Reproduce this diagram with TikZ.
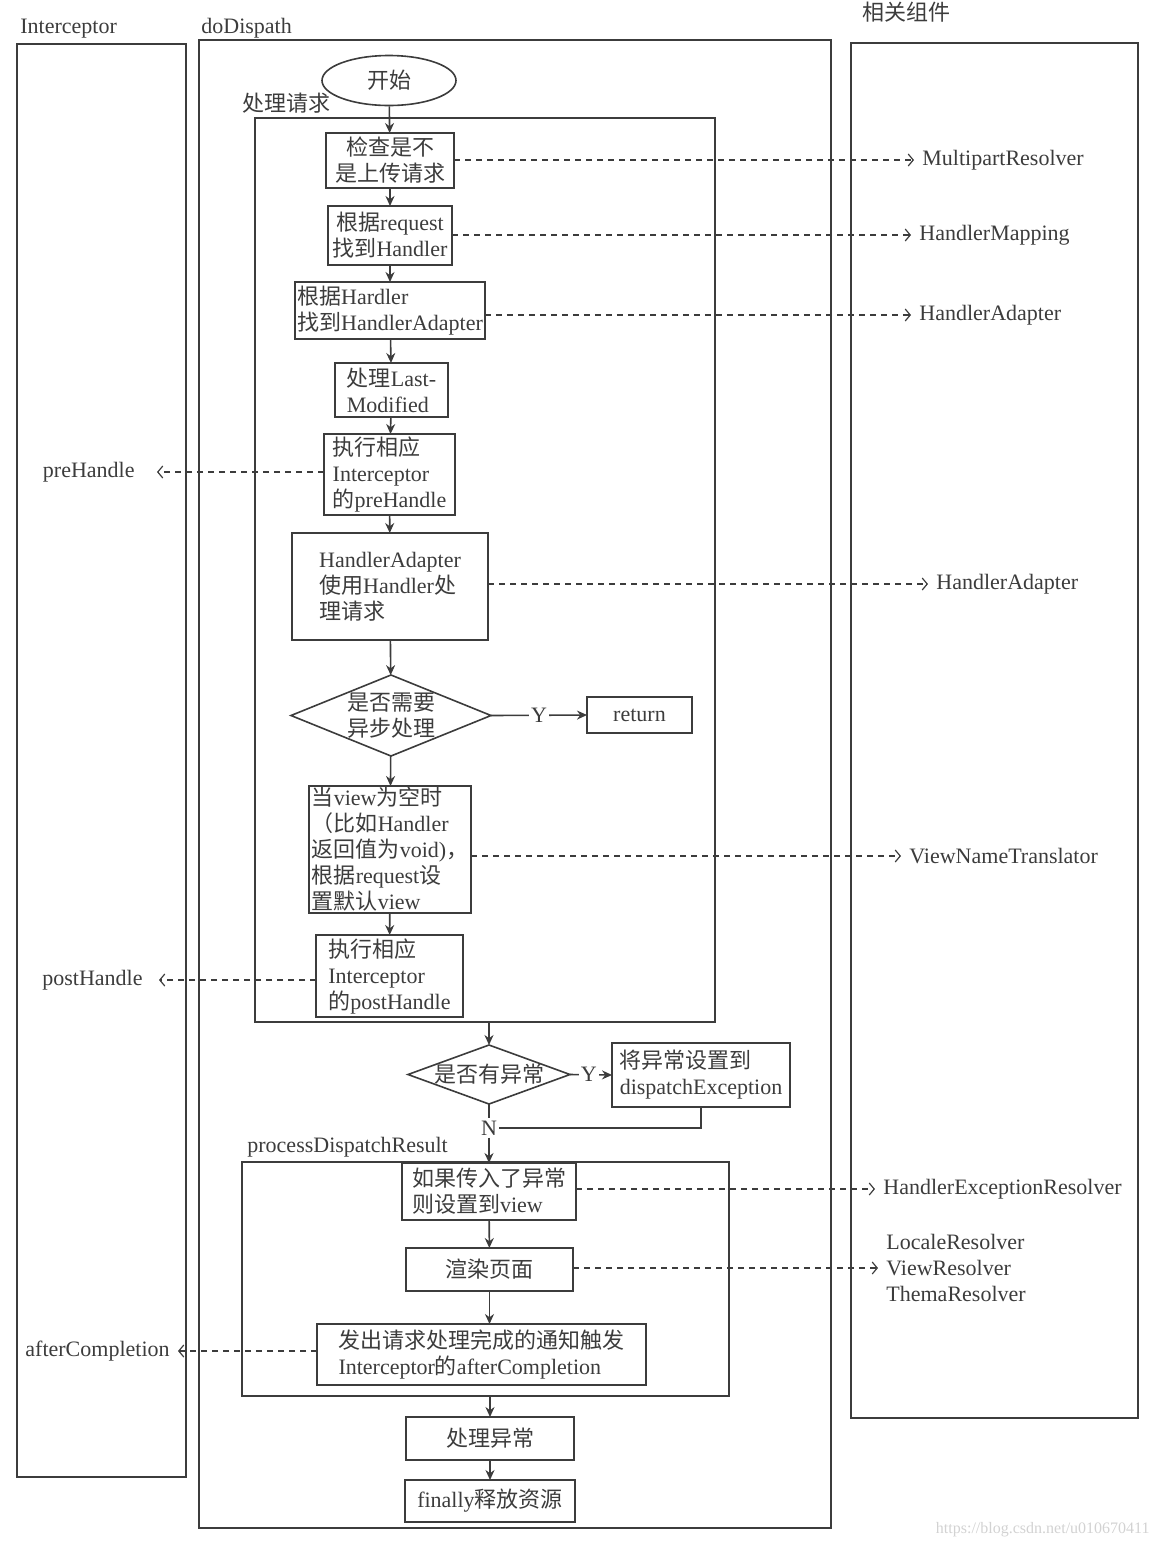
\documentclass[tikz,border=0pt]{standalone}
\usepackage{fontspec}
\setmainfont{Liberation Serif}
\newfontfamily\cjk{Noto Sans CJK SC}
\newcommand\zh[1]{{\cjk #1}}
\usepackage{tikz}
\usetikzlibrary{arrows.meta,shapes.geometric}
\definecolor{ink}{RGB}{60,60,60}

\begin{document}
\begin{tikzpicture}[x=0.5pt,y=0.5pt,yscale=-1,xscale=1,
  every node/.style={font=\fontsize{11}{13}\selectfont, text=ink},
  lane/.style={draw=ink, line width=0.8pt, inner sep=0pt, outer sep=0pt},
  stage/.style={draw=ink, line width=0.8pt, inner sep=0pt, outer sep=0pt},
  box/.style={draw=ink, line width=0.8pt, inner sep=1pt, outer sep=0pt, align=center},
  cond/.style={draw=ink, line width=0.8pt, diamond, inner sep=0pt, outer sep=0pt},
  lbl/.style={inner sep=1pt, align=left},
  flow/.style={draw=ink, line width=0.8pt, -{Stealth[length=5pt,width=4.5pt]}},
  dep/.style={draw=ink, line width=0.6pt, dash pattern=on 3pt off 2.5pt, shorten >=3pt, -{Straight Barb[length=2.5pt,width=6pt]}}]
\path[use as bounding box] (0,0) rectangle (1158,1549);

%Lanes
\node[lane, minimum width=84.5pt, minimum height=716.5pt] (icpt) at (101.5,760.5) {};
\node[lane, minimum width=316pt, minimum height=744pt] (disp) at (515,784) {};
\node[lane, minimum width=143.5pt, minimum height=687.5pt] (comp) at (994.5,730.5) {};
\node[lbl, anchor=base west] (icptT) at (18,33) {Interceptor};
\node[lbl, anchor=base west] (dispT) at (199,33) {doDispath};
\node[lbl, anchor=base west] (compT) at (860,20) {\zh{相关组件}};

%Stages
\node[stage, minimum width=230pt, minimum height=452pt] (req) at (485,570) {};
\node[stage, minimum width=243.5pt, minimum height=117pt] (pdr) at (485.5,1279) {};
\node[lbl, anchor=base west] (reqT) at (240,111) {\zh{处理请求}};
\node[lbl, anchor=base west] (pdrT) at (245,1152) {processDispatchResult};

%Shape: Ellipse
\node[draw=ink, line width=0.8pt, ellipse, minimum width=67pt, minimum height=25pt, inner sep=0pt] (start) at (389,80.5) {\zh{开始}};

%Shape: Rectangles [processing]
\node[box, minimum width=64pt, minimum height=27.5pt] (chk) at (390,160.5) {\zh{检查是不}\\\zh{是上传请求}};
\node[box, minimum width=62pt, minimum height=29.5pt] (byreq) at (390,235.5) {\zh{根据}request\\\zh{找到}Handler};
\node[box, align=left, minimum width=92pt, minimum height=28.5pt] (byhdl) at (390,310.5) {\zh{根据}Hardler\\\zh{找到}HandlerAdapter};
\node[box, align=left, minimum width=56.5pt, minimum height=27pt] (lastmod) at (391.5,390) {\zh{处理}Last-\\Modified};
\node[box, align=left, minimum width=65.5pt, minimum height=40.5pt] (pre) at (389.5,474.5) {\zh{执行相应}\\Interceptor\\\zh{的}preHandle};
\node[box, align=left, minimum width=98pt, minimum height=53.5pt] (ha) at (390,586.5) {HandlerAdapter\\\zh{使用}Handler\zh{处}\\\zh{理请求}};
\node[cond, minimum width=100pt, minimum height=40.5pt, label={[lbl, align=center]center:\zh{是否需要}\\\zh{异步处理}}] (async) at (391,715.5) {};
\node[box, minimum width=52.5pt, minimum height=18pt] (ret) at (639.5,715) {return};
\node[box, align=left, inner sep=0.5pt, minimum width=81pt, minimum height=63.5pt] (view) at (390,849.5) {\zh{当}view\zh{为空时}\\\zh{（比如}Handler\\\zh{返回值为}void)\zh{，}\\\zh{根据}request\zh{设}\\\zh{置默认}view};
\node[box, align=left, minimum width=73.5pt, minimum height=41pt] (post) at (389.5,976) {\zh{执行相应}\\Interceptor\\\zh{的}postHandle};

%Shape: Rectangles [exception]
\node[cond, minimum width=81pt, minimum height=29.5pt, label={[lbl]center:\zh{是否有异常}}] (exc) at (489,1074.5) {};
\node[box, align=left, minimum width=89pt, minimum height=32pt] (setexc) at (701,1075) {\zh{将异常设置到}\\dispatchException};
\node[lbl] (nmark) at (489,1128) {N};
\node[box, align=left, minimum width=87pt, minimum height=28.5pt] (inexc) at (489,1191.5) {\zh{如果传入了异常}\\\zh{则设置到}view};
\node[box, minimum width=83.5pt, minimum height=21.5pt] (render) at (489.5,1269.5) {\zh{渲染页面}};
\node[box, align=left, minimum width=164.5pt, minimum height=30.5pt] (notify) at (481.5,1354.5) {\zh{发出请求处理完成的通知触发}\\Interceptor\zh{的}afterCompletion};
\node[box, minimum width=84pt, minimum height=21.5pt] (handle) at (490,1438.5) {\zh{处理异常}};
\node[box, minimum width=85pt, minimum height=21pt] (release) at (490,1501) {finally\zh{释放资源}};

% Text Node [components]
\node[lbl, anchor=west] (mr) at (920,160) {MultipartResolver};
\node[lbl, anchor=west] (hm) at (917,235) {HandlerMapping};
\node[lbl, anchor=west] (ha1) at (917,315) {HandlerAdapter};
\node[lbl, anchor=west] (ha2) at (934,584) {HandlerAdapter};
\node[lbl, anchor=west] (vnt) at (907,856) {ViewNameTranslator};
\node[lbl, anchor=west] (her) at (881,1189) {HandlerExceptionResolver};
\node[lbl, anchor=west] (res) at (884,1268) {LocaleResolver\\ViewResolver\\ThemaResolver};
% Text Node [interceptor]
\node[lbl, anchor=east] (preL) at (137,472) {preHandle};
\node[lbl, anchor=east] (postL) at (145,980) {postHandle};
\node[lbl, anchor=east] (afterL) at (172,1351) {afterCompletion};

%Flow
\draw[flow] (start) -- (chk);
\draw[flow] (chk) -- (byreq);
\draw[flow] (byreq) -- (byhdl);
\draw[flow] (byhdl) -- (lastmod);
\draw[flow] (lastmod) -- (pre);
\draw[flow] (pre) -- (ha);
\draw[flow] (ha) -- (async);
\draw[flow] (async.east) -- node[fill=white, inner sep=1pt] {Y} (ret.west);
\draw[flow] (async) -- (view);
\draw[flow] (view) -- (post);
\draw[flow] (exc.north |- req.south) -- (exc.north);
\draw[flow] (exc.east) -- node[fill=white, inner sep=1pt, pos=0.45] {Y} (setexc.west);
\draw[draw=ink, line width=0.8pt] (exc.south) -- (nmark.north);
\draw[draw=ink, line width=0.8pt] (setexc.south) |- (nmark.east);
\draw[flow] (nmark.south) -- (inexc.north);
\draw[flow] (inexc) -- (render);
\draw[flow] (render.south) -- (render.south |- notify.north);
\draw[flow] (handle.north |- pdr.south) -- (handle.north);
\draw[flow] (handle) -- (release);

%Dependencies
\draw[dep] (chk.east |- mr.west) -- (mr.west);
\draw[dep] (byreq.east |- hm.west) -- (hm.west);
\draw[dep] (byhdl.east |- ha1.west) -- (ha1.west);
\draw[dep] (ha.east |- ha2.west) -- (ha2.west);
\draw[dep] (view.east |- vnt.west) -- (vnt.west);
\draw[dep] (inexc.east |- her.west) -- (her.west);
\draw[dep] (render.east |- res.west) -- (res.west);
\draw[dep, shorten >=10pt] (pre.west |- preL.east) -- (preL.east);
\draw[dep, shorten >=7pt] (post.west |- postL.east) -- (postL.east);
\draw[dep] (notify.west |- afterL.east) -- (afterL.east);

% Text Node [watermark]
\node[lbl, anchor=east, text=gray!35, font=\fontsize{8}{9}\selectfont] (wm) at (1152,1530) {https://blog.csdn.net/u010670411};

\end{tikzpicture}
\end{document}
